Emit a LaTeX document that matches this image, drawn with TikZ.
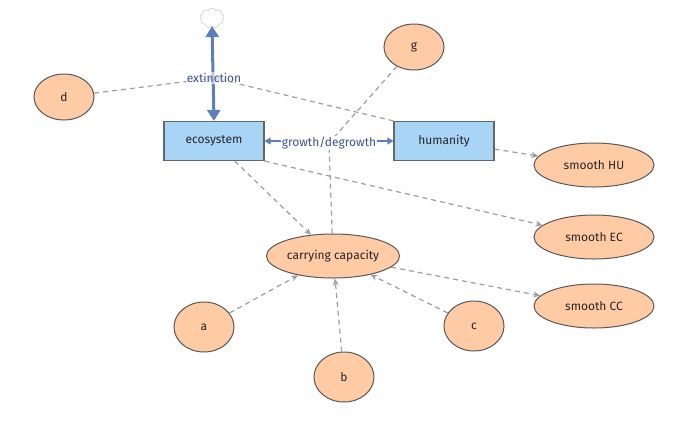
\documentclass[tikz,border=0pt]{standalone}
\usepackage{fontspec}
\setmainfont{Fira Sans}
\usetikzlibrary{shapes.symbols,shapes.geometric,arrows.meta}
\definecolor{ell}{HTML}{FFCBA4}
\definecolor{stk}{HTML}{A8D4F5}
\definecolor{flw}{HTML}{5B7FBF}
\definecolor{ftx}{HTML}{3A5594}
\begin{document}
\begin{tikzpicture}[x=1pt,y=-1pt,font=\fontsize{12}{14}\selectfont,
  var/.style={ellipse,draw=black!65,fill=ell,line width=1pt,minimum width=60,minimum height=46,inner sep=1pt},
  svar/.style={var,minimum width=120,minimum height=44},
  stock/.style={rectangle,draw=black!60,fill=stk,line width=1.2pt,minimum width=100,minimum height=39},
  link/.style={draw=black!38,line width=1.2pt,dash pattern=on 5pt off 4pt,-{Stealth[length=7pt,width=6pt]}},
  every node/.append style={text=black!85}]
\useasboundingbox (0,0) rectangle (689,424);
\node[stock] (eco) at (214,141) {ecosystem};
\node[stock] (hum) at (444,141) {humanity};
\node[cloud,draw=black!25,fill=white,cloud puffs=9,minimum width=24,minimum height=20,aspect=1.2] (cl) at (212,18) {};
\node[var] (d) at (64,97) {d};
\node[var] (g) at (414,47) {g};
\node[svar] (cc) at (333,256) {carrying capacity};
\node[svar] (hu) at (594,165) {smooth HU};
\node[svar] (ec) at (594,237) {smooth EC};
\node[svar] (scc) at (594,306) {smooth CC};
\node[var,minimum height=50] (a) at (204,327) {a};
\node[var,minimum height=50] (b) at (344,377) {b};
\node[var,minimum height=50] (c) at (474,326) {c};
\coordinate (ext) at (214,78);
\coordinate (gro) at (329,143);
% links
\draw[link] (d) -- (ext);
\draw[link] (hum.north west) -- (ext);
\draw[link] (g) -- (gro);
\draw[link] (cc) -- (gro);
\draw[link] (eco) -- (cc);
\draw[link] (eco.south east) -- (ec);
\draw[link] (hum) -- (hu);
\draw[link] (cc) -- (scc);
\draw[link] (a) -- (cc);
\draw[link] (b) -- (cc);
\draw[link] (c) -- (cc);
% flows
\draw[flw,line width=3pt,{Triangle[length=11pt,width=13pt]}-{Triangle[length=11pt,width=13pt]}] (cl.south) -- (eco.north);
\node[text=ftx,fill=white,fill opacity=0.6,text opacity=1,inner sep=1pt] (extl) at (ext) {extinction};
\draw[flw,line width=1.2pt,{Triangle[length=6pt,width=7pt]}-{Triangle[length=6pt,width=7pt]}] (eco.east) -- (hum.west);
\node[text=ftx,fill=white,inner sep=0.5pt] (grol) at (gro) {growth/degrowth};
\end{tikzpicture}
\end{document}
